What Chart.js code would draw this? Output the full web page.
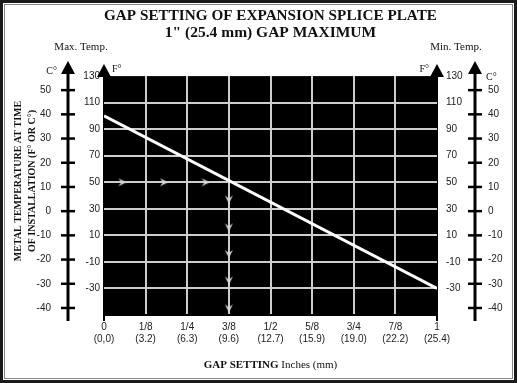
<!DOCTYPE html>
<html lang="en">
<head>
<meta charset="UTF-8">
<title>Gap Setting of Expansion Splice Plate</title>
<script src="https://cdn.jsdelivr.net/npm/chart.js"></script>
<style>
  html, body { margin: 0; padding: 0; background: #fff; }
  .chart-box { width: 517px; height: 383px; position: relative; }
</style>
</head>
<body>
<div class="chart-box"><canvas id="gapChart" width="517" height="383"></canvas></div>
<script>
// gap setting (inches) vs metal temperature (F)
const gapInches = [0, 1];
const tempF = [100, -30];

// x axis labels, one per 1/8"
const gapTicks = [0, 0.125, 0.25, 0.375, 0.5, 0.625, 0.75, 0.875, 1];
const gapLabels = ['0', '1/8', '1/4', '3/8', '1/2', '5/8', '3/4', '7/8', '1'];
const gapMm = ['(0,0)', '(3.2)', '(6.3)', '(9.6)', '(12.7)', '(15.9)', '(19.0)', '(22.2)', '(25.4)'];

// temperature scales
const fGrid = [-50, -40, -30, -20, -10, 0, 10, 20, 30, 40, 50, 60, 70, 80, 90, 100, 110, 120, 130];
const fLabels = [130, 110, 90, 70, 50, 30, 10, -10, -30];
const cLabels = [50, 40, 30, 20, 10, 0, -10, -20, -30, -40];

// worked example: 50 F read across to the line, then down to 3/8"
const acrossX = [0.055, 0.18, 0.305];
const acrossY = [50, 50, 50];
const downX = [0.375, 0.375, 0.375, 0.375, 0.375];
const downY = [37, 16, -4, -24, -45];

const serif = "'Liberation Serif', 'Times New Roman', serif";
const sans = "'Liberation Sans', Arial, sans-serif";

function makeChevron() {
    const c = document.createElement('canvas');
    c.width = 10; c.height = 10;
    const g = c.getContext('2d');
    g.fillStyle = '#d6d6d6';
    g.beginPath();
    g.moveTo(9, 5); g.lineTo(1, 1); g.lineTo(4, 5); g.lineTo(1, 9);
    g.closePath();
    g.fill();
    return c;
}
const chevron = makeChevron();

function upArrow(ctx, x, tipY) {
    ctx.beginPath();
    ctx.moveTo(x, tipY);
    ctx.lineTo(x - 7, tipY + 13);
    ctx.lineTo(x + 7, tipY + 13);
    ctx.closePath();
    ctx.fill();
}

const decor = {
    id: 'decor',
    beforeDraw(chart) {
        const {ctx, chartArea: a} = chart;
        ctx.save();
        ctx.fillStyle = '#000';
        ctx.fillRect(a.left, a.top, a.right - a.left, a.bottom - a.top);
        ctx.restore();
    },
    afterDraw(chart) {
        const {ctx, chartArea: a} = chart;
        const cl = chart.scales.cLeft, cr = chart.scales.cRight;
        const xl = cl.right, xr = cr.left;
        ctx.save();
        ctx.fillStyle = '#000';
        ctx.strokeStyle = '#000';

        // Celsius axes with crossing ticks
        [xl, xr].forEach(x => {
            ctx.lineWidth = 3;
            ctx.beginPath();
            ctx.moveTo(x, a.top - 8);
            ctx.lineTo(x, a.bottom + 6);
            ctx.stroke();
            ctx.lineWidth = 2.5;
            cLabels.forEach(v => {
                const y = cl.getPixelForValue(v);
                ctx.beginPath();
                ctx.moveTo(x - 7, y);
                ctx.lineTo(x + 7, y);
                ctx.stroke();
            });
            upArrow(ctx, x, a.top - 15);
        });
        // Fahrenheit arrows on the plot edges
        upArrow(ctx, a.left, a.top - 12);
        upArrow(ctx, a.right, a.top - 12);

        ctx.fillStyle = '#111';
        ctx.textBaseline = 'middle';
        ctx.font = '10px ' + serif;
        ctx.textAlign = 'left';
        ctx.fillText('F°', a.left + 8, a.top - 7);
        ctx.fillText('C°', xr + 11, a.top + 1);
        ctx.textAlign = 'right';
        ctx.fillText('F°', a.right - 8, a.top - 7);
        ctx.fillText('C°', xl - 11, a.top - 5);

        ctx.font = '11px ' + serif;
        ctx.textAlign = 'center';
        ctx.fillText('Max. Temp.', (xl + a.left) / 2 - 5, 47);
        ctx.fillText('Min. Temp.', (xr + a.right) / 2, 47);

        // x axis title, mixed weight
        const t1 = 'GAP SETTING', t2 = ' Inches (mm)';
        ctx.font = 'bold 11px ' + serif;
        const w1 = ctx.measureText(t1).width;
        ctx.font = '11px ' + serif;
        const w2 = ctx.measureText(t2).width;
        const x0 = (a.left + a.right) / 2 - (w1 + w2) / 2;
        ctx.textAlign = 'left';
        ctx.font = 'bold 11px ' + serif;
        ctx.fillText(t1, x0, 365);
        ctx.font = '11px ' + serif;
        ctx.fillText(t2, x0 + w1, 365);

        // y axis title, rotated
        ctx.font = 'bold 10px ' + serif;
        ctx.textAlign = 'center';
        ctx.translate(18, 181);
        ctx.rotate(-Math.PI / 2);
        ctx.fillText('METAL TEMPERATURE AT TIME', 0, 0);
        ctx.fillText('OF INSTALLATION (F° OR C°)', 0, 14);
        ctx.restore();

        // frame
        ctx.save();
        ctx.strokeStyle = '#1a1a1a';
        ctx.lineWidth = 3;
        ctx.strokeRect(1.5, 1.5, chart.width - 3, chart.height - 3);
        ctx.strokeStyle = '#888';
        ctx.lineWidth = 1;
        ctx.strokeRect(4.5, 4.5, chart.width - 9, chart.height - 9);
        ctx.restore();
    }
};

const tickFont = {family: sans, size: 10};

new Chart(document.getElementById('gapChart'), {
    type: 'line',
    data: {
        datasets: [{
            data: gapInches.map((g, i) => ({x: g, y: tempF[i]})),
            borderColor: '#fff',
            borderWidth: 3,
            pointRadius: 0,
            yAxisID: 'fLeft'
        }, {
            data: acrossX.map((g, i) => ({x: g, y: acrossY[i]})),
            showLine: false,
            pointStyle: chevron,
            pointRotation: 0,
            yAxisID: 'fLeft'
        }, {
            data: downX.map((g, i) => ({x: g, y: downY[i]})),
            showLine: false,
            pointStyle: chevron,
            pointRotation: 90,
            yAxisID: 'fLeft'
        }]
    },
    options: {
        responsive: false,
        animation: false,
        events: [],
        layout: {padding: {left: 0, right: 0, top: 0, bottom: 0}},
        plugins: {
            legend: {display: false},
            tooltip: {enabled: false},
            title: {
                display: true,
                fullSize: false,
                text: ['GAP SETTING OF EXPANSION SPLICE PLATE', '1" (25.4 mm) GAP MAXIMUM'],
                color: '#111',
                font: {family: serif, size: 15.5, weight: 'bold', lineHeight: 1.1},
                padding: {top: 7, bottom: 35}
            }
        },
        scales: {
            x: {
                type: 'linear',
                min: 0, max: 1,
                afterBuildTicks: s => { s.ticks = gapTicks.map(v => ({value: v})); },
                afterFit: s => { s.height = 68; },
                border: {display: true, color: '#000', width: 2},
                grid: {
                    color: c => (c.tick.value === 0 || c.tick.value === 1) ? '#000' : '#cdcdcd',
                    lineWidth: 2,
                    tickColor: c => (c.tick.value === 0 || c.tick.value === 1) ? '#000' : 'rgba(0,0,0,0)',
                    tickLength: 6
                },
                ticks: {
                    font: tickFont, color: '#222', padding: 0, maxRotation: 0, autoSkip: false,
                    callback: (v, i) => [gapLabels[i], gapMm[i]]
                }
            },
            fLeft: {
                position: 'left',
                min: -50, max: 130,
                afterBuildTicks: s => { s.ticks = fGrid.map(v => ({value: v})); },
                afterFit: s => { s.width = 36; },
                border: {display: false},
                grid: {
                    color: c => (c.tick.value === 130 || c.tick.value === -50) ? 'rgba(0,0,0,0)' : '#cdcdcd',
                    lineWidth: 2,
                    drawTicks: false
                },
                ticks: {
                    font: tickFont, color: '#222', padding: 4,
                    callback: v => fLabels.includes(v) ? String(v) : ''
                }
            },
            cLeft: {
                position: 'left',
                min: -42.9, max: 55.8,
                afterBuildTicks: s => { s.ticks = cLabels.map(v => ({value: v})); },
                afterFit: s => { s.width = 68; },
                border: {display: false},
                grid: {drawOnChartArea: false, drawTicks: false},
                ticks: {font: tickFont, color: '#222', padding: 17}
            },
            fRight: {
                position: 'right',
                min: -50, max: 130,
                afterBuildTicks: s => { s.ticks = fLabels.map(v => ({value: v})); },
                afterFit: s => { s.width = 38; },
                border: {display: false},
                grid: {drawOnChartArea: false, drawTicks: false},
                ticks: {font: tickFont, color: '#222', padding: 9}
            },
            cRight: {
                position: 'right',
                min: -42.9, max: 55.8,
                afterBuildTicks: s => { s.ticks = cLabels.map(v => ({value: v})); },
                afterFit: s => { s.width = 42; },
                border: {display: false},
                grid: {drawOnChartArea: false, drawTicks: false},
                ticks: {font: tickFont, color: '#222', padding: 13}
            }
        }
    },
    plugins: [decor]
});
</script>
</body>
</html>
